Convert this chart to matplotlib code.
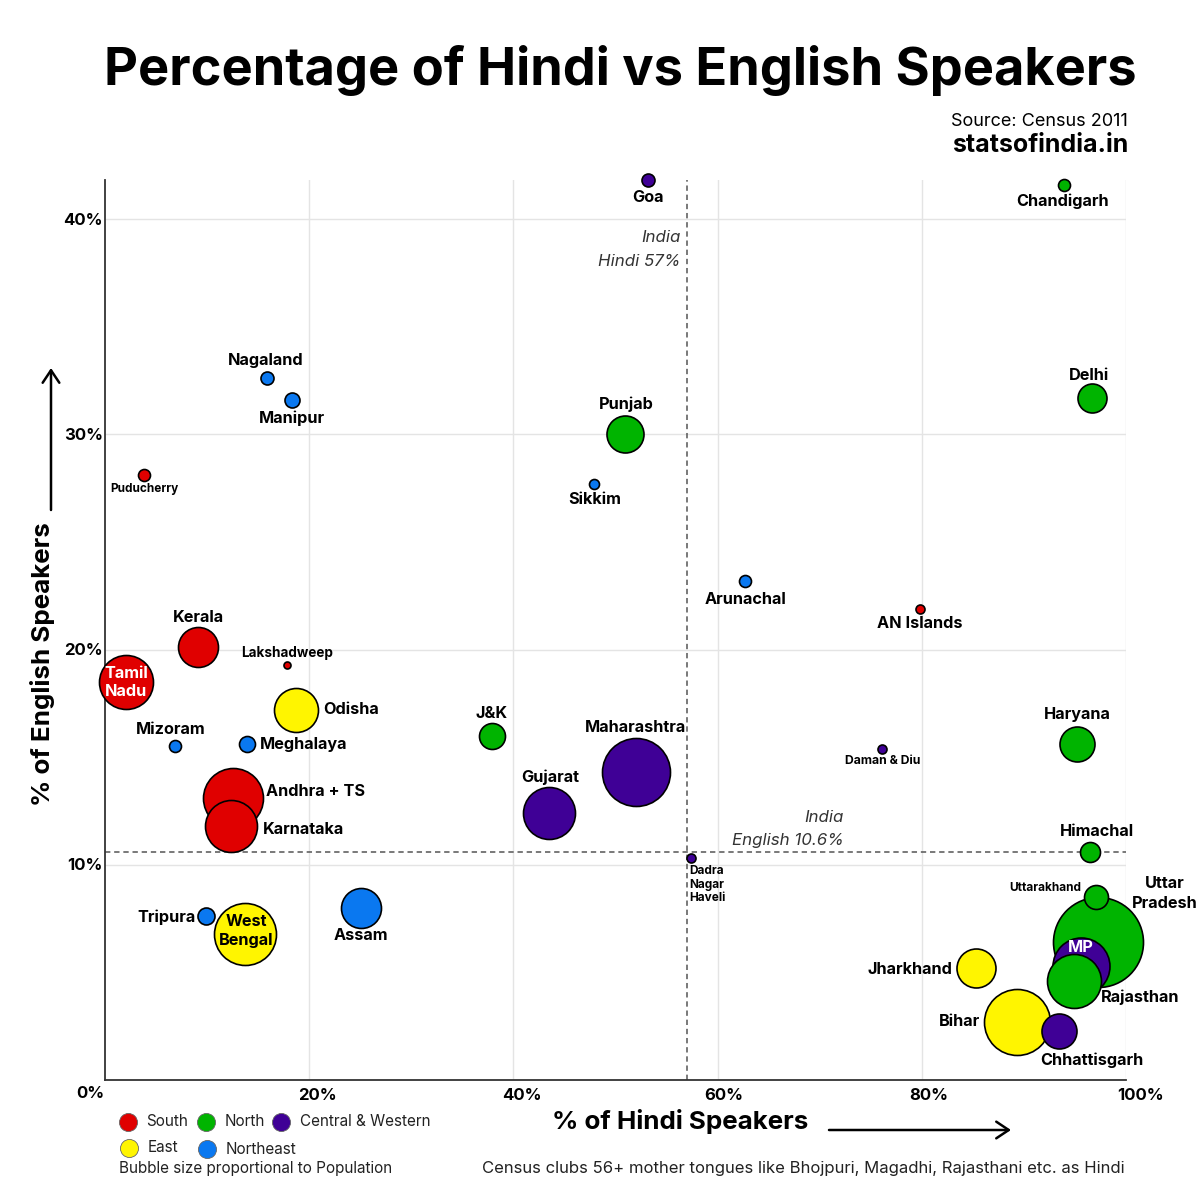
import matplotlib
matplotlib.use('Agg')
import matplotlib.pyplot as plt

plt.rcParams['font.family'] = ['Inter', 'DejaVu Sans']

names = ['Tamil Nadu','Kerala','Puducherry','Lakshadweep','Andhra + TS','Karnataka','AN Islands',
 'Chandigarh','Delhi','Punjab','J&K','Haryana','Himachal','Uttarakhand','Uttar Pradesh','Rajasthan',
 'Goa','Maharashtra','Gujarat','Daman & Diu','Dadra','MP','Chhattisgarh',
 'Odisha','West Bengal','Jharkhand','Bihar',
 'Nagaland','Manipur','Mizoram','Meghalaya','Tripura','Assam','Sikkim','Arunachal']
hindi = [2.1,9.1,3.8,17.8,12.5,12.3,79.8,
 93.9,96.7,50.9,37.9,95.2,96.5,97.1,97.3,94.9,
 53.2,52.0,43.5,76.1,57.4,95.6,93.4,
 18.7,13.7,85.3,89.3,
 15.9,18.3,6.9,13.9,9.9,25.1,47.9,62.7]
english = [18.5,20.1,28.1,19.3,13.1,11.8,21.9,
 41.6,31.7,30.0,16.0,15.6,10.6,8.5,6.4,4.6,
 41.8,14.3,12.4,15.4,10.3,5.3,2.3,
 17.2,6.8,5.2,2.7,
 32.6,31.6,15.5,15.6,7.6,8.0,27.7,23.2]
diam_px = [54,40,12,7,60,52,9,
 12,29,37,26,35,20,24,90,54,
 13,68,52,9,9,57,35,
 44,62,39,66,
 13,15,12,16,17,40,10,12]
groups = ['S','S','S','S','S','S','S',
 'N','N','N','N','N','N','N','N','N',
 'C','C','C','C','C','C','C',
 'E','E','E','E',
 'X','X','X','X','X','X','X','X']
group_colors = {'S':'#e00000','N':'#00b400','C':'#3f0096','E':'#fff500','X':'#0a78f0'}

xtick_vals = [0,20,40,60,80,100]
ytick_vals = [10,20,30,40]
india_hindi = 57.0
india_english = 10.6

W = 1201
fig = plt.figure(figsize=(W/100, W/100), dpi=100)
L,R,T,B = 105,1126,180,1080
ax = fig.add_axes([L/W, 1-B/W, (R-L)/W, (B-T)/W])
ax.set_xlim(0,100)
ax.set_ylim(0,(B-T)/21.52)
for s in ['top','right']:
    ax.spines[s].set_visible(False)
for s in ['left','bottom']:
    ax.spines[s].set_linewidth(1.3)
    ax.spines[s].set_color('#333333')
ax.set_xticks([20,40,60,80,100]); ax.set_xticklabels([])
ax.set_yticks(ytick_vals); ax.set_yticklabels([])
ax.tick_params(length=0)
ax.grid(True,color='#e4e4e4',lw=1)
ax.set_axisbelow(True)

order = sorted(range(len(names)), key=lambda i:-diam_px[i])
for i in order:
    ax.scatter(hindi[i],english[i],s=(diam_px[i]*0.72)**2,c=group_colors[groups[i]],
               edgecolors='black',linewidths=1.2,zorder=3,clip_on=False)
ax.axvline(india_hindi,color='#555555',lw=1.1,ls=(0,(3.5,2.5)),zorder=2)
ax.axhline(india_english,color='#555555',lw=1.1,ls=(0,(3.5,2.5)),zorder=2)

def px(x,y,s,**k):
    k.setdefault('ha','center'); k.setdefault('va','center')
    k.setdefault('fontsize',11.7); k.setdefault('fontweight','bold')
    k.setdefault('color','black')
    fig.text(x/W,1-(y+1)/W,s,**k)

labels = [(648,196,'Goa'),(1063,200,'Chandigarh'),(266,360,'Nagaland'),(292,417,'Manipur'),
 (1089,374,'Delhi'),(626,403,'Punjab'),(595,498,'Sikkim'),(745,598,'Arunachal'),(920,622,'AN Islands'),
 (198,616,'Kerala'),(351,709,'Odisha'),(171,729,'Mizoram'),(304,744,'Meghalaya'),(492,712,'J&K'),
 (636,727,'Maharashtra'),(550,776,'Gujarat'),(1077,714,'Haryana'),(315,790,'Andhra + TS'),
 (303,828,'Karnataka'),(1097,831,'Himachal'),(167,916,'Tripura'),(361,934,'Assam'),
 (910,969,'Jharkhand'),(1140,996,'Rajasthan'),(959,1021,'Bihar'),(1092,1059,'Chhattisgarh')]
for x,y,s in labels:
    px(x,y,s)
for x,y,s,fs in [(144,488,'Puducherry',8.5),(287,652,'Lakshadweep',9.7),(883,760,'Daman & Diu',8.8),(1045,887,'Uttarakhand',8.5)]:
    px(x,y,s,fontsize=fs)
for x,y,s in [(707,870,'Dadra'),(707,884,'Nagar'),(707,897,'Haveli')]:
    px(x,y,s,fontsize=8.5)
px(1165,883,'Uttar'); px(1165,902,'Pradesh')
px(126,672,'Tamil',color='white'); px(126,691,'Nadu',color='white')
px(246,921,'West'); px(246,940,'Bengal')
px(1081,946,'MP',color='white')

for x,y,s in [(681,237,'India'),(681,260,'Hindi 57%')]:
    px(x,y,s,ha='right',fontweight='normal',fontstyle='italic',color='#333333',fontsize=12.2)
for x,y,s in [(844,816,'India'),(844,839,'English 10.6%')]:
    px(x,y,s,ha='right',fontweight='normal',fontstyle='italic',color='#333333',fontsize=12.2)

for v,x,y in zip(xtick_vals,[90,317,522,724,929,1140],[1092,1094,1094,1094,1094,1094]):
    px(x,y,f'{v}%',fontsize=12)
for v in ytick_vals:
    px(103,B-v*21.52,f'{v}%',ha='right',fontsize=12)

px(620,70,'Percentage of Hindi vs English Speakers',fontsize=37.7,fontweight='bold')
px(1128,120,'Source: Census 2011',ha='right',fontweight='normal',fontsize=13)
px(1128,145,'statsofindia.in',ha='right',fontsize=18)
px(680,1121,'% of Hindi Speakers',fontsize=18.7)
px(43,663,'% of English Speakers',fontsize=18.7,rotation=90)

def arrow(x0,y0,x1,y1):
    fig.add_artist(matplotlib.patches.FancyArrowPatch((x0/W,1-y0/W),(x1/W,1-y1/W),
        transform=fig.transFigure,arrowstyle='->,head_length=9,head_width=6',lw=1.8,color='black',mutation_scale=1,shrinkA=0,shrinkB=0))
arrow(829,1130,1011,1130)
arrow(51,510,51,368)

for x,y,c,s,tx in [(128,1122,'S','South',146),(206,1122,'N','North',225),(281,1122,'C','Central & Western',300),
                (129,1148,'E','East',148),(207,1149,'X','Northeast',226)]:
    fig.add_artist(plt.Line2D([x/W],[1-y/W],marker='o',ms=13,mfc=group_colors[c],mec='#666666',mew=0.6,transform=fig.transFigure))
    px(tx,y-1,s,ha='left',fontweight='normal',fontsize=11,color='#222222')
px(119,1168,'Bubble size proportional to Population',ha='left',fontweight='normal',fontsize=11,color='#222222')
px(1125,1168,'Census clubs 56+ mother tongues like Bhojpuri, Magadhi, Rajasthani etc. as Hindi',ha='right',fontweight='normal',fontsize=12,color='#222222')

fig.savefig('out.png',dpi=100)
